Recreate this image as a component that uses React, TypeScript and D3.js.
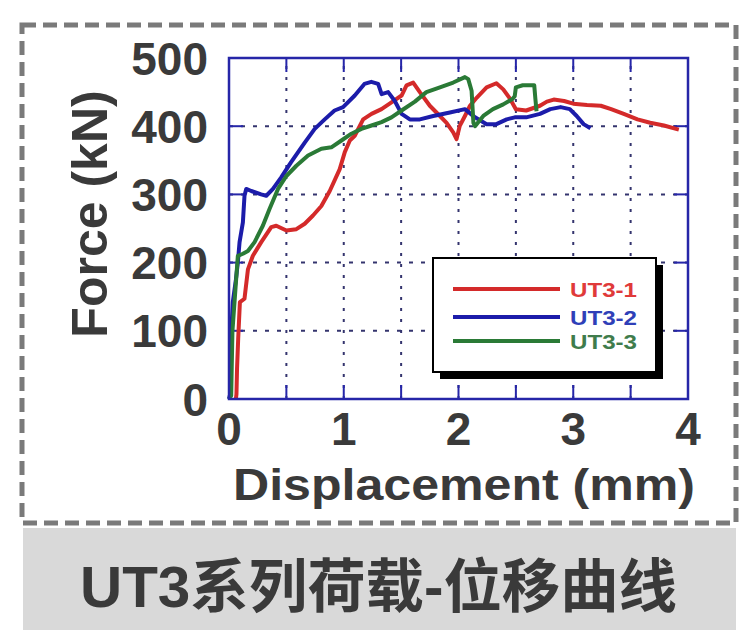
import React from "react";
import * as d3 from "d3";

// ---- data ----
const xTicks = [0, 1, 2, 3, 4];
const yTicks = [0, 100, 200, 300, 400, 500];
const xGrid = [0.5, 1, 1.5, 2, 2.5, 3, 3.5];
const yGrid = [100, 200, 300, 400];
const xMinor = [0.5, 1, 1.5, 2, 2.5, 3, 3.5];

const seriesNames = ["UT3-1", "UT3-2", "UT3-3"];

const ut31Disp = [0.06, 0.065, 0.07, 0.08, 0.095, 0.135, 0.165, 0.208, 0.281, 0.368, 0.412, 0.5, 0.587, 0.66, 0.732, 0.805, 0.878, 0.965, 1.009, 1.053, 1.096, 1.169, 1.242, 1.329, 1.416, 1.504, 1.547, 1.605, 1.663, 1.75, 1.838, 1.896, 1.954, 1.983, 2.01, 2.056, 2.1, 2.16, 2.245, 2.33, 2.39, 2.45, 2.5, 2.59, 2.71, 2.77, 2.83, 2.92, 3.0, 3.12, 3.24, 3.33, 3.44, 3.56, 3.67, 3.79, 3.92];
const ut31Force = [0, 7, 44, 88, 142, 147, 190, 210, 230, 252, 254, 247, 249, 257, 269, 283, 305, 337, 362, 379, 386, 410, 418, 425, 435, 445, 460, 464, 450, 430, 415, 405, 391, 381, 400, 415, 430, 442, 457, 463, 454, 440, 425, 423, 430, 436, 439, 437, 433, 431, 430, 425, 418, 410, 405, 401, 395];

const ut32Disp = [0.0, 0.01, 0.02, 0.033, 0.06, 0.077, 0.092, 0.121, 0.135, 0.15, 0.194, 0.28, 0.325, 0.383, 0.455, 0.54, 0.66, 0.747, 0.834, 0.92, 0.994, 1.096, 1.18, 1.24, 1.3, 1.33, 1.387, 1.445, 1.504, 1.576, 1.663, 1.78, 1.925, 2.056, 2.144, 2.245, 2.33, 2.42, 2.49, 2.59, 2.71, 2.8, 2.89, 2.97, 3.03, 3.09, 3.15];
const ut32Force = [0, 7, 98, 142, 175, 200, 230, 259, 298, 308, 305, 300, 298, 308, 325, 347, 376, 396, 410, 423, 428, 445, 462, 465, 462, 447, 450, 437, 418, 410, 410, 415, 420, 425, 413, 403, 403, 410, 413, 413, 418, 425, 428, 425, 415, 403, 397];

const ut33Disp = [0.0, 0.019, 0.03, 0.048, 0.077, 0.121, 0.165, 0.223, 0.295, 0.354, 0.427, 0.5, 0.587, 0.689, 0.805, 0.892, 0.98, 1.067, 1.154, 1.242, 1.329, 1.416, 1.504, 1.62, 1.72, 1.838, 1.954, 2.056, 2.085, 2.114, 2.13, 2.144, 2.216, 2.3, 2.39, 2.47, 2.49, 2.5, 2.56, 2.66, 2.67, 2.68];
const ut33Force = [0, 5, 100, 142, 210, 213, 217, 230, 254, 279, 308, 327, 342, 357, 367, 369, 379, 389, 396, 401, 406, 413, 423, 436, 450, 457, 464, 472, 469, 452, 405, 400, 415, 425, 432, 440, 444, 457, 460, 460, 440, 422];

const seriesColors = ["#d42a2a", "#1c1caa", "#2a7a36"];
const labelColors = ["#e03a3a", "#2f3fb8", "#3f7c4c"];

const FONT = "'Liberation Sans', Arial, Helvetica, sans-serif";
const TEXT = "#3a3a3a";

export default function App() {
  const W = 755, H = 642;
  const x = d3.scaleLinear().domain([0, 4]).range([229, 688]);
  const y = d3.scaleLinear().domain([0, 500]).range([399, 58]);

  const series = [
    ut31Disp.map((d, i) => [d, ut31Force[i]] as [number, number]),
    ut32Disp.map((d, i) => [d, ut32Force[i]] as [number, number]),
    ut33Disp.map((d, i) => [d, ut33Force[i]] as [number, number]),
  ];
  const line = d3.line<[number, number]>().x((d) => x(d[0])).y((d) => y(d[1]));

  const gridColor = "#34346e";
  const frameColor = "#2626a8";

  // legend geometry
  const lg = { x: 433, y: 258, w: 223, h: 114 };
  const legendRows = [289, 317, 341];

  return (
    <div style={{ position: "absolute", left: 0, top: 0 }}>
      <svg width={W} height={H} viewBox={`0 0 ${W} ${H}`} style={{ display: "block", background: "#fff" }}>
        {/* outer dashed box */}
        <rect x={22} y={25} width={714} height={498} fill="none" stroke="#7a7a7a" strokeWidth={5} strokeDasharray="14,7" />
        {/* caption band */}
        <rect x={23} y={528} width={713} height={102} fill="#d9d9d9" />
        <text x={80} y={607} fontFamily={`${FONT}, 'Noto Sans CJK SC'`} fontWeight="bold" fontSize={58} fill={TEXT}
          textLength={597} lengthAdjust="spacingAndGlyphs">UT3系列荷载-位移曲线</text>

        {/* grid */}
        {xGrid.map((v) => (
          <line key={"gx" + v} x1={x(v)} x2={x(v)} y1={y(0)} y2={y(500)} stroke={gridColor} strokeWidth={2} strokeDasharray="3,8" />
        ))}
        {yGrid.map((v) => (
          <line key={"gy" + v} x1={x(0)} x2={x(4)} y1={y(v)} y2={y(v)} stroke={gridColor} strokeWidth={2} strokeDasharray="4,8" />
        ))}

        {/* ticks */}
        {xMinor.map((v) => (
          <g key={"tx" + v}>
            <line x1={x(v)} x2={x(v)} y1={y(0)} y2={y(0) - 14} stroke={frameColor} strokeWidth={2} />
            <line x1={x(v)} x2={x(v)} y1={y(500)} y2={y(500) + 14} stroke={frameColor} strokeWidth={2} />
          </g>
        ))}
        {yGrid.map((v) => (
          <g key={"ty" + v}>
            <line x1={x(0)} x2={x(0) + 14} y1={y(v)} y2={y(v)} stroke={frameColor} strokeWidth={2} />
            <line x1={x(4)} x2={x(4) - 14} y1={y(v)} y2={y(v)} stroke={frameColor} strokeWidth={2} />
          </g>
        ))}

        {/* curves */}
        {series.map((s, i) => (
          <path key={"s" + i} d={line(s) || ""} fill="none" stroke={seriesColors[i]} strokeWidth={4} strokeLinejoin="round" />
        ))}

        {/* frame */}
        <rect x={x(0)} y={y(500)} width={x(4) - x(0)} height={y(0) - y(500)} fill="none" stroke={frameColor} strokeWidth={2.5} />

        {/* legend */}
        <rect x={lg.x + 7} y={lg.y + 7} width={lg.w} height={lg.h} fill="#000" />
        <rect x={lg.x} y={lg.y} width={lg.w} height={lg.h} fill="#fff" stroke="#000" strokeWidth={2} />
        {seriesNames.map((n, i) => (
          <g key={"lg" + i}>
            <line x1={453} x2={560} y1={legendRows[i]} y2={legendRows[i]} stroke={seriesColors[i]} strokeWidth={4} />
            <text x={570} y={legendRows[i] + 7.5} fontFamily={FONT} fontWeight="bold" fontSize={21} fill={labelColors[i]}
              textLength={67} lengthAdjust="spacingAndGlyphs">{n}</text>
          </g>
        ))}

        {/* y tick labels */}
        {yTicks.map((v) => (
          <text key={"yl" + v} x={208} y={y(v)} dy="0.36em" textAnchor="end" fontFamily={FONT} fontWeight="bold" fontSize={46} fill={TEXT}>{v}</text>
        ))}
        {/* x tick labels */}
        {xTicks.map((v) => (
          <text key={"xl" + v} x={x(v)} y={445} textAnchor="middle" fontFamily={FONT} fontWeight="bold" fontSize={46} fill={TEXT}>{v}</text>
        ))}

        {/* axis titles */}
        <text transform="translate(107,214) rotate(-90)" textAnchor="middle" fontFamily={FONT} fontWeight="bold" fontSize={50} fill={TEXT}>Force (kN)</text>
        <text x={233} y={500} fontFamily={FONT} fontWeight="bold" fontSize={45} fill={TEXT}
          textLength={462} lengthAdjust="spacingAndGlyphs">Displacement (mm)</text>
      </svg>
    </div>
  );
}
